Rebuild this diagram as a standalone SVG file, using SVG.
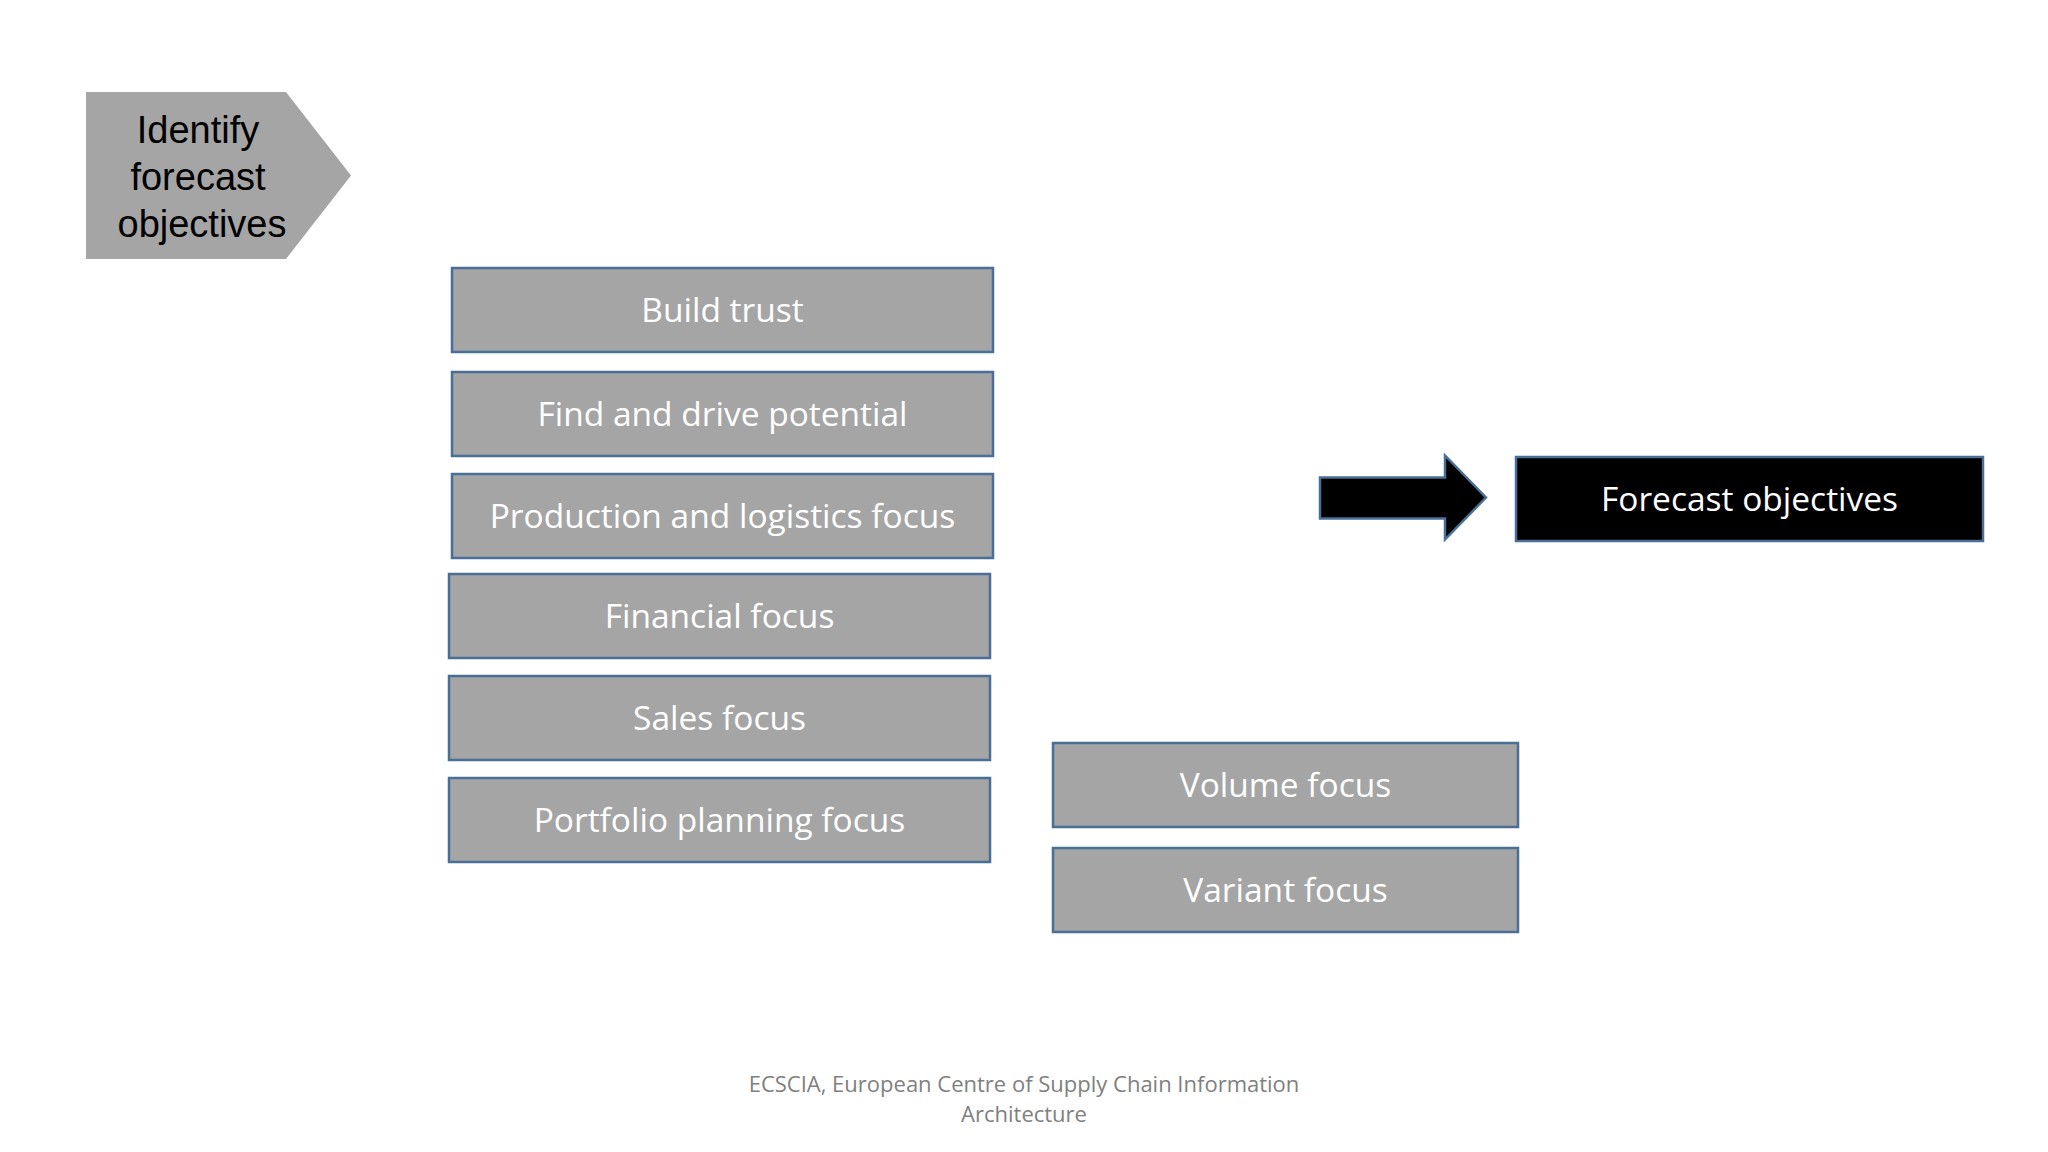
<svg xmlns="http://www.w3.org/2000/svg" width="2048" height="1152" viewBox="0 0 2048 1152">
<style>
.box{fill:#a5a5a5;stroke:#4a6f96;stroke-width:2.5}
.lbl{font-family:"Open Sans",Lato,"Liberation Sans",sans-serif;font-size:33.5px;fill:#ffffff;text-anchor:middle}
.dark{fill:#000000;stroke:#4a6f96;stroke-width:2.5}
.pent{font-family:"Liberation Sans",Arial,sans-serif;font-size:38px;fill:#000000;text-anchor:middle}
.foot{font-family:"Open Sans",Lato,"Liberation Sans",sans-serif;font-size:22px;fill:#808080;text-anchor:middle}
</style>
<rect width="2048" height="1152" fill="#ffffff"/>
<g id="identify">
<polygon points="86,92 286,92 351,175.5 286,259 86,259" fill="#a5a5a5"/>
<text class="pent" x="198" y="143">Identify</text>
<text class="pent" x="198" y="190">forecast</text>
<text class="pent" x="202" y="237">objectives</text>
</g>
<g id="build-trust"><rect class="box" x="452" y="268" width="541" height="84"/><text class="lbl" x="722.5" y="322">Build trust</text></g>
<g id="find-drive"><rect class="box" x="452" y="372" width="541" height="84"/><text class="lbl" x="722.5" y="426">Find and drive potential</text></g>
<g id="production"><rect class="box" x="452" y="474" width="541" height="84"/><text class="lbl" x="722.5" y="528">Production and logistics focus</text></g>
<g id="financial"><rect class="box" x="449" y="574" width="541" height="84"/><text class="lbl" x="719.5" y="628">Financial focus</text></g>
<g id="sales"><rect class="box" x="449" y="676" width="541" height="84"/><text class="lbl" x="719.5" y="730">Sales focus</text></g>
<g id="portfolio"><rect class="box" x="449" y="778" width="541" height="84"/><text class="lbl" x="719.5" y="832">Portfolio planning focus</text></g>
<g id="volume"><rect class="box" x="1053" y="743" width="465" height="84"/><text class="lbl" x="1285.5" y="797">Volume focus</text></g>
<g id="variant"><rect class="box" x="1053" y="848" width="465" height="84"/><text class="lbl" x="1285.5" y="902">Variant focus</text></g>
<g id="forecast-objectives"><rect class="dark" x="1516" y="457" width="467" height="84"/><text class="lbl" x="1749.5" y="511">Forecast objectives</text></g>
<g id="connectors">
<polygon class="dark" points="1320,477.5 1445,477.5 1445,455.5 1486,497.5 1445,539.5 1445,518.5 1320,518.5"/>
</g>
<g id="footer">
<text class="foot" x="1024" y="1092">ECSCIA, European Centre of Supply Chain Information</text>
<text class="foot" x="1024" y="1122">Architecture</text>
</g>
</svg>
